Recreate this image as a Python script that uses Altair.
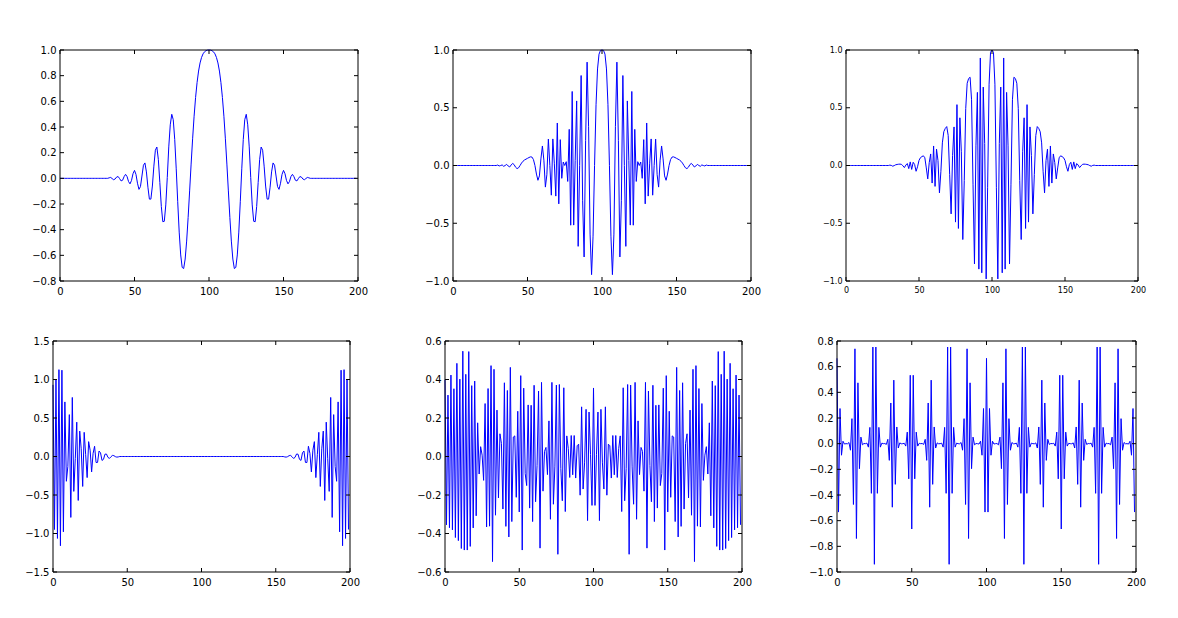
import altair as alt
import pandas as pd

# sample index (x axis of every panel)
SAMPLES = list(range(200))

# top-left: Gaussian chirp, real part
p1 = [
 0, 0, 0, 0, 0, 0, 0, 0, 0, 0,
 0, 0, 0, 0, 0, 0, 0, 0, 0, 0,
 0, 0, 0, 0, 0, 0, 0, 0, 0, 0,
 0, 0, 0, 0.004, 0.007, -0.002, -0.011, -0.005, 0.010, 0.014,
 -0.002, -0.020, -0.015, 0.013, 0.031, 0.014, -0.025, -0.043, -0.016, 0.036,
 0.062, 0.030, -0.038, -0.086, -0.064, 0.018, 0.102, 0.120, 0.050, -0.069,
 -0.162, -0.162, -0.060, 0.095, 0.219, 0.244, 0.148, -0.032, -0.219, -0.338,
 -0.335, -0.207, 0.006, 0.245, 0.417, 0.499, 0.457, 0.303, 0.074, -0.182,
 -0.419, -0.597, -0.694, -0.703, -0.629, -0.489, -0.305, -0.098, 0.111, 0.308,
 0.484, 0.630, 0.747, 0.836, 0.899, 0.942, 0.970, 0.986, 0.995, 0.999,
 1.0, 0.999, 0.995, 0.986, 0.970, 0.942, 0.899, 0.836, 0.747, 0.630,
 0.484, 0.308, 0.111, -0.098, -0.305, -0.489, -0.629, -0.703, -0.694, -0.597,
 -0.419, -0.182, 0.074, 0.303, 0.457, 0.499, 0.417, 0.245, 0.006, -0.207,
 -0.335, -0.338, -0.219, -0.032, 0.148, 0.244, 0.219, 0.095, -0.060, -0.162,
 -0.162, -0.069, 0.050, 0.120, 0.102, 0.018, -0.064, -0.086, -0.038, 0.030,
 0.062, 0.036, -0.016, -0.043, -0.025, 0.014, 0.031, 0.013, -0.015, -0.020,
 -0.002, 0.014, 0.010, -0.005, -0.011, -0.002, 0.007, 0.004, 0, 0,
 0, 0, 0, 0, 0, 0, 0, 0, 0, 0,
 0, 0, 0, 0, 0, 0, 0, 0, 0, 0,
 0, 0, 0, 0, 0, 0, 0, 0, 0, 0,
]

# top-middle
p2 = [
 0, 0, 0, 0, 0, 0, 0, 0, 0, 0,
 0, 0, 0, 0, 0, 0, 0, 0, 0, 0,
 0, 0, 0, 0, 0, 0, 0, 0, 0, 0,
 0.004, -0.004, 0.000, 0.005, -0.007, 0.000, 0.010, -0.004, -0.013, 0.004,
 0.018, 0.008, -0.015, -0.027, -0.020, 0.000, 0.021, 0.037, 0.048, 0.055,
 0.062, 0.069, 0.075, 0.073, 0.051, 0.000, -0.074, -0.128, -0.090, 0.057,
 0.169, 0.046, -0.187, -0.080, 0.229, 0.000, -0.257, 0.230, 0.020, -0.265,
 0.368, -0.332, 0.224, -0.111, 0.030, 0.000, 0.033, -0.138, 0.313, -0.517,
 0.641, -0.516, 0.044, 0.559, -0.700, 0.000, 0.779, -0.305, -0.792, 0.217,
 0.895, 0.336, -0.594, -0.945, -0.612, 0.000, 0.526, 0.836, 0.964, 0.997,
 1.0, 0.997, 0.964, 0.836, 0.526, 0.000, -0.612, -0.945, -0.594, 0.336,
 0.895, 0.217, -0.792, -0.305, 0.779, 0.000, -0.700, 0.559, 0.044, -0.516,
 0.641, -0.517, 0.313, -0.138, 0.033, 0.000, 0.030, -0.111, 0.224, -0.332,
 0.368, -0.265, 0.020, 0.230, -0.257, 0.000, 0.229, -0.080, -0.187, 0.046,
 0.169, 0.057, -0.090, -0.128, -0.074, 0.000, 0.051, 0.073, 0.075, 0.069,
 0.062, 0.055, 0.048, 0.037, 0.021, 0.000, -0.020, -0.027, -0.015, 0.008,
 0.018, 0.004, -0.013, -0.004, 0.010, 0.000, -0.007, 0.005, 0.000, -0.004,
 0.004, 0, 0, 0, 0, 0, 0, 0, 0, 0,
 0, 0, 0, 0, 0, 0, 0, 0, 0, 0,
 0, 0, 0, 0, 0, 0, 0, 0, 0, 0,
]

# top-right
p3 = [
 0, 0, 0, 0, 0, 0, 0, 0, 0, 0,
 0, 0, 0, 0, 0, 0, 0, 0, 0, 0,
 0, 0, 0, 0, 0, 0, 0, 0, 0, 0,
 0.003, 0.001, -0.006, -0.001, 0.006, 0.009, 0.011, 0.012, 0.010, -0.003,
 -0.018, 0.004, 0.017, -0.027, 0.031, -0.034, 0.028, 0.009, -0.050, -0.011,
 0.044, 0.068, 0.077, 0.084, 0.067, -0.021, -0.116, 0.025, 0.100, -0.152,
 0.169, -0.181, 0.142, 0.043, -0.237, -0.050, 0.196, 0.293, 0.321, 0.337,
 0.260, -0.077, -0.419, 0.087, 0.334, -0.490, 0.527, -0.545, 0.413, 0.119,
 -0.641, -0.131, 0.493, 0.712, 0.753, 0.764, 0.569, -0.162, -0.852, 0.170,
 0.633, -0.897, 0.931, -0.929, 0.679, 0.190, -0.982, -0.193, 0.704, 0.980,
 1.0, 0.980, 0.704, -0.193, -0.982, 0.190, 0.679, -0.929, 0.931, -0.897,
 0.633, 0.170, -0.852, -0.162, 0.569, 0.764, 0.753, 0.712, 0.493, -0.131,
 -0.641, 0.119, 0.413, -0.545, 0.527, -0.490, 0.334, 0.087, -0.419, -0.077,
 0.260, 0.337, 0.321, 0.293, 0.196, -0.050, -0.237, 0.043, 0.142, -0.181,
 0.169, -0.152, 0.100, 0.025, -0.116, -0.021, 0.067, 0.084, 0.077, 0.068,
 0.044, -0.011, -0.050, 0.009, 0.028, -0.034, 0.031, -0.027, 0.017, 0.004,
 -0.018, -0.003, 0.010, 0.012, 0.011, 0.009, 0.006, -0.001, -0.006, 0.001,
 0.003, 0, 0, 0, 0, 0, 0, 0, 0, 0,
 0, 0, 0, 0, 0, 0, 0, 0, 0, 0,
 0, 0, 0, 0, 0, 0, 0, 0, 0, 0,
]

# bottom-left
p4 = [
 0.931, -0.948, 0.997, -1.064, 1.128, -1.159, 1.121, -0.978, 0.709, -0.322,
 -0.130, 0.544, -0.791, 0.767, -0.453, -0.028, 0.446, -0.571, 0.330, 0.100,
 -0.389, 0.314, 0.024, -0.274, 0.193, 0.082, -0.200, 0.041, 0.133, -0.078,
 -0.077, 0.071, 0.048, -0.051, -0.037, 0.030, 0.032, -0.011, -0.025, -0.004,
 0.014, 0.011, -0.002, -0.008, -0.005, 0, 0, 0, 0, 0,
 0, 0, 0, 0, 0, 0, 0, 0, 0, 0,
 0, 0, 0, 0, 0, 0, 0, 0, 0, 0,
 0, 0, 0, 0, 0, 0, 0, 0, 0, 0,
 0, 0, 0, 0, 0, 0, 0, 0, 0, 0,
 0, 0, 0, 0, 0, 0, 0, 0, 0, 0,
 0, 0, 0, 0, 0, 0, 0, 0, 0, 0,
 0, 0, 0, 0, 0, 0, 0, 0, 0, 0,
 0, 0, 0, 0, 0, 0, 0, 0, 0, 0,
 0, 0, 0, 0, 0, 0, 0, 0, 0, 0,
 0, 0, 0, 0, 0, 0, 0, 0, 0, 0,
 0, 0, 0, 0, 0, 0, -0.005, -0.008, -0.002, 0.011,
 0.014, -0.004, -0.025, -0.011, 0.032, 0.030, -0.037, -0.051, 0.048, 0.071,
 -0.077, -0.078, 0.133, 0.041, -0.200, 0.082, 0.193, -0.274, 0.024, 0.314,
 -0.389, 0.100, 0.330, -0.571, 0.446, -0.028, -0.453, 0.767, -0.791, 0.544,
 -0.130, -0.322, 0.709, -0.978, 1.121, -1.159, 1.128, -1.064, 0.997, -0.948,
]

# bottom-middle
p5 = [
 0.399, -0.355, 0.319, -0.370, 0.423, -0.381, 0.352, -0.421, 0.484, -0.437,
 0.402, -0.478, 0.547, -0.486, 0.427, -0.486, 0.545, -0.467, 0.368, -0.371,
 0.392, -0.308, 0.175, -0.091, 0.051, 0.007, -0.124, 0.275, -0.366, 0.353,
 -0.362, 0.472, -0.546, 0.453, -0.305, 0.241, -0.215, 0.118, 0.068, -0.273,
 0.383, -0.363, 0.343, -0.418, 0.463, -0.338, 0.101, 0.107, -0.212, 0.235,
 -0.288, 0.420, -0.486, 0.355, -0.089, -0.151, 0.268, -0.268, 0.266, -0.338,
 0.370, -0.235, -0.046, 0.340, -0.476, 0.385, -0.180, 0.026, 0.047, -0.094,
 0.185, -0.326, 0.385, -0.248, -0.054, 0.371, -0.508, 0.374, -0.063, -0.230,
 0.357, -0.286, 0.107, 0.042, -0.109, 0.109, -0.095, 0.109, -0.112, 0.056,
 0.064, -0.201, 0.258, -0.169, -0.033, 0.245, -0.333, 0.231, 0.010, -0.254,
 0.356, -0.254, 0.010, 0.231, -0.333, 0.245, -0.033, -0.169, 0.258, -0.201,
 0.064, 0.056, -0.112, 0.109, -0.095, 0.109, -0.109, 0.042, 0.107, -0.286,
 0.357, -0.230, -0.063, 0.374, -0.508, 0.371, -0.054, -0.248, 0.385, -0.326,
 0.185, -0.094, 0.047, 0.026, -0.180, 0.385, -0.476, 0.340, -0.046, -0.235,
 0.370, -0.338, 0.266, -0.268, 0.268, -0.151, -0.089, 0.355, -0.486, 0.420,
 -0.288, 0.235, -0.212, 0.107, 0.101, -0.338, 0.463, -0.418, 0.343, -0.363,
 0.383, -0.273, 0.068, 0.118, -0.215, 0.241, -0.305, 0.453, -0.546, 0.472,
 -0.362, 0.353, -0.366, 0.275, -0.124, 0.007, 0.051, -0.091, 0.175, -0.308,
 0.392, -0.371, 0.368, -0.467, 0.545, -0.486, 0.427, -0.486, 0.547, -0.478,
 0.402, -0.437, 0.484, -0.421, 0.352, -0.381, 0.423, -0.370, 0.319, -0.355,
]

# bottom-right
p6 = [
 0.665, -0.533, 0.274, -0.090, 0.019, -0.003, 0.000, -0.001, 0.009, -0.051,
 0.195, -0.474, 0.739, -0.739, 0.474, -0.195, 0.051, -0.009, 0.001, 0.000,
 0.004, -0.027, 0.127, -0.387, 0.753, -0.940, 0.753, -0.387, 0.127, -0.027,
 0.004, 0.000, 0.001, -0.006, 0.034, -0.130, 0.317, -0.495, 0.495, -0.317,
 0.130, -0.034, 0.006, -0.001, 0.000, 0.003, -0.019, 0.090, -0.274, 0.533,
 -0.665, 0.533, -0.274, 0.090, -0.019, 0.003, 0.000, 0.001, -0.006, 0.034,
 -0.130, 0.317, -0.495, 0.495, -0.317, 0.130, -0.034, 0.006, -0.001, 0.000,
 0.004, -0.027, 0.127, -0.387, 0.753, -0.940, 0.753, -0.387, 0.127, -0.027,
 0.004, 0.000, -0.001, 0.009, -0.051, 0.195, -0.474, 0.739, -0.739, 0.474,
 -0.195, 0.051, -0.009, 0.001, 0.000, -0.003, 0.019, -0.090, 0.274, -0.533,
 0.665, -0.533, 0.274, -0.090, 0.019, -0.003, 0.000, 0.001, -0.009, 0.051,
 -0.195, 0.474, -0.739, 0.739, -0.474, 0.195, -0.051, 0.009, -0.001, 0.000,
 0.004, -0.027, 0.127, -0.387, 0.753, -0.940, 0.753, -0.387, 0.127, -0.027,
 0.004, 0.000, -0.001, 0.006, -0.034, 0.130, -0.317, 0.495, -0.495, 0.317,
 -0.130, 0.034, -0.006, 0.001, 0.000, 0.003, -0.019, 0.090, -0.274, 0.533,
 -0.665, 0.533, -0.274, 0.090, -0.019, 0.003, 0.000, -0.001, 0.006, -0.034,
 0.130, -0.317, 0.495, -0.495, 0.317, -0.130, 0.034, -0.006, 0.001, 0.000,
 0.004, -0.027, 0.127, -0.387, 0.753, -0.940, 0.753, -0.387, 0.127, -0.027,
 0.004, 0.000, 0.001, -0.009, 0.051, -0.195, 0.474, -0.739, 0.739, -0.474,
 0.195, -0.051, 0.009, -0.001, 0.000, -0.003, 0.019, -0.090, 0.274, -0.533,
]

X_TICKS = [0, 50, 100, 150, 200]
X_EDGES = [0, 200]
Y_TICKS_1 = [-0.8, -0.6, -0.4, -0.2, 0.0, 0.2, 0.4, 0.6, 0.8, 1.0]
Y_TICKS_2 = [-1.0, -0.5, 0.0, 0.5, 1.0]
Y_TICKS_4 = [-1.5, -1.0, -0.5, 0.0, 0.5, 1.0, 1.5]
Y_TICKS_5 = [-0.6, -0.4, -0.2, 0.0, 0.2, 0.4, 0.6]
Y_TICKS_6 = [-1.0, -0.8, -0.6, -0.4, -0.2, 0.0, 0.2, 0.4, 0.6, 0.8]

FONT = "DejaVu Sans"
H = 231
TICK = 4


def panel(vals, ydom, yticks, w, fs, ext, shift=0):
    df = pd.DataFrame({"x": SAMPLES, "y": vals})
    xs = alt.Scale(domain=[0, 200], range=[shift, shift + w], nice=False, zero=False)
    ys = alt.Scale(domain=ydom, nice=False, zero=False)
    xaxis = alt.Axis(values=X_TICKS, format="d", tickSize=0, domain=False, grid=False,
                     labelFont=FONT, labelFontSize=fs, labelColor="black",
                     labelPadding=5, labelFlush=False, labelOverlap=False,
                     minExtent=20, maxExtent=20, title=None)
    yaxis = alt.Axis(values=yticks, format=".1f", tickSize=0, domain=False, grid=False,
                     labelFont=FONT, labelFontSize=fs, labelColor="black",
                     labelPadding=4, labelFlush=False, labelOverlap=False,
                     minExtent=ext, maxExtent=ext, title=None, offset=-shift)
    line = alt.Chart(df).mark_line(color="#0000ff", strokeWidth=1).encode(
        x=alt.X("x:Q", scale=xs, axis=xaxis),
        y=alt.Y("y:Q", scale=ys, axis=yaxis),
    )
    tx = pd.DataFrame({"v": X_TICKS})
    ex = pd.DataFrame({"v": X_EDGES})
    ty = pd.DataFrame({"v": yticks})
    ey = pd.DataFrame({"v": ydom})
    rule = dict(color="black", strokeWidth=1)
    frame_v = alt.Chart(ex).mark_rule(**rule).encode(
        x=alt.X("v:Q", scale=xs, axis=xaxis), y=alt.value(0), y2=alt.value(H))
    frame_h = alt.Chart(ey).mark_rule(**rule).encode(
        y=alt.Y("v:Q", scale=ys, axis=yaxis), x=alt.value(shift), x2=alt.value(shift + w))
    bottom = alt.Chart(tx).mark_rule(**rule).encode(
        x=alt.X("v:Q", scale=xs, axis=xaxis), y=alt.value(H), y2=alt.value(H - TICK))
    top = alt.Chart(tx).mark_rule(**rule).encode(
        x=alt.X("v:Q", scale=xs, axis=xaxis), y=alt.value(0), y2=alt.value(TICK))
    left = alt.Chart(ty).mark_rule(**rule).encode(
        y=alt.Y("v:Q", scale=ys, axis=yaxis), x=alt.value(shift), x2=alt.value(shift + TICK))
    right = alt.Chart(ty).mark_rule(**rule).encode(
        y=alt.Y("v:Q", scale=ys, axis=yaxis), x=alt.value(shift + w - TICK), x2=alt.value(shift + w))
    return alt.layer(line, frame_v, frame_h, bottom, top, left, right).properties(
        width=w + shift, height=H)


row1 = alt.hconcat(
    panel(p1, [-0.8, 1.0], Y_TICKS_1, 298, 10, 37, shift=7),
    panel(p2, [-1.0, 1.0], Y_TICKS_2, 298, 10, 37),
    panel(p3, [-1.0, 1.0], Y_TICKS_2, 292, 8, 37),
    spacing=46,
)
row2 = alt.hconcat(
    panel(p4, [-1.5, 1.5], Y_TICKS_4, 297, 10, 40),
    panel(p5, [-0.6, 0.6], Y_TICKS_5, 297, 10, 40),
    panel(p6, [-1.0, 0.8], Y_TICKS_6, 299, 10, 40),
    spacing=43,
)

chart = alt.vconcat(row1, row2, spacing=33).properties(
    padding={"left": 4, "top": 36, "right": 0, "bottom": 0},
    background="white",
).configure_view(stroke="transparent")

chart.save("out.html", embed_options={"renderer": "svg", "actions": False})
